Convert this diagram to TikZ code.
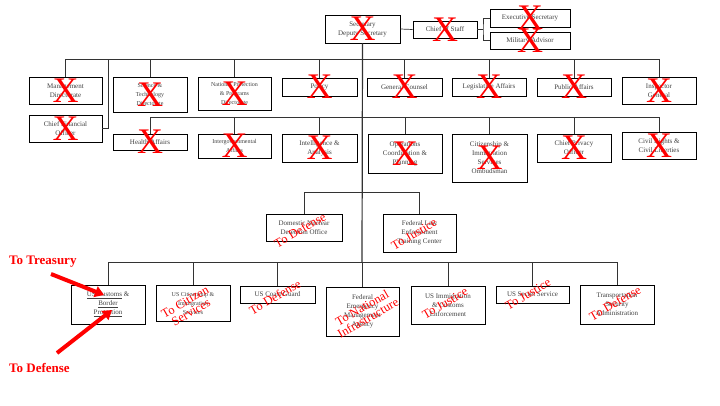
\documentclass[tikz,border=0pt]{standalone}
\usepackage{fontspec}
\setmainfont{Liberation Serif}
\usetikzlibrary{arrows.meta}
\begin{document}
\begin{tikzpicture}[x=1pt,y=-1pt,
  bx/.style={draw,line width=0.8pt,align=center,inner sep=1pt,text=black!75,font=\fontsize{7}{9}\selectfont},
  ln/.style={draw,line width=0.7pt,black!80},
  xm/.style={text=red,font=\fontsize{36}{36}\selectfont,inner sep=0pt},
  lab/.style={text=red,font=\fontsize{12.5}{12}\selectfont,align=center,rotate=30,inner sep=0pt},
  arr/.style={red,line width=4pt,-{Triangle[length=9pt,width=11pt]}}]
\useasboundingbox (0,0) rectangle (720,405);
\newcommand\B[6]{\node[bx,minimum width=#4pt,minimum height=#5pt] (#1) at (#2,#3) {#6};}
\newcommand\sm{\fontsize{6}{8}\selectfont}
\B{sec}{362.5}{29}{75}{28}{Secretary\\Deputy Secretary}
\B{cos}{445}{29.5}{64}{17}{Chief of Staff}
\B{exe}{530}{18}{80}{18}{Executive Secretary}
\B{mil}{530}{40.5}{80}{17}{Military Advisor}
\B{mgmt}{65.5}{90.5}{73}{27}{Management\\Directorate}
\B{st}{150}{94.5}{74}{35}{\sm Science \&\\\sm Technology\\\sm Directorate}
\B{nppd}{234.5}{93.5}{73}{33}{\sm National Protection\\\sm \& Programs\\\sm Directorate}
\B{pol}{319.5}{87}{75}{18}{Policy}
\B{gc}{404.5}{87}{75}{18}{General Counsel}
\B{leg}{489}{87}{74}{18}{Legislative Affairs}
\B{pub}{574}{87}{74}{18}{Public Affairs}
\B{ig}{659}{90.5}{74}{27}{Inspector\\General}
\B{cfo}{65.5}{128.5}{73}{27}{Chief Financial\\Officer}
\B{health}{150}{142}{74}{16}{Health Affairs}
\B{intergov}{234.5}{146}{73}{24}{\sm Intergovernmental\\\sm Affairs}
\B{ia}{319.5}{148}{75}{28}{Intelligence \&\\Analysis}
\B{ocp}{405}{153.5}{74}{39}{Operations\\Coordination \&\\Planning}
\B{cis}{489.5}{158}{75}{48}{Citizenship \&\\Immigration\\Services\\Ombudsman}
\B{cpo}{574}{148}{74}{28}{Chief Privacy\\Officer}
\B{crcl}{659}{145.5}{74}{27}{Civil Rights \&\\Civil Liberties}
\B{dndo}{304}{227.5}{76}{27}{Domestic Nuclear\\Detection Office}
\B{fletc}{419.5}{233}{73}{38}{Federal Law\\Enforcement\\Training Center}
\B{cbp}{108}{304.5}{74}{39}{\underline{US Customs} \&\\\underline{Border}\\\underline{Protection}}
\B{uscis}{193}{303}{74}{36}{\sm US Citizenship \&\\\sm Immigration\\\sm Services}
\B{uscg}{277.5}{294.5}{75}{17}{US Coast Guard}
\B{fema}{362.5}{311.5}{73}{49}{Federal\\Emergency\\Management\\Agency}
\B{ice}{448}{305}{74}{38}{US Immigration\\\& Customs\\Enforcement}
\B{usss}{532.5}{294.5}{73}{17}{US Secret Service}
\B{tsa}{617}{304.5}{74}{39}{Transportation\\Security\\Administration}
\coordinate (b1) at (362,59);
\coordinate (b2) at (362,117);
\coordinate (b3) at (362,192);
\coordinate (b4) at (362,262);
\coordinate (cfj) at (108,59);
\coordinate (csj) at (483,29.5);
\draw[ln,line width=1.2pt] (sec.south) -- (b4);
\draw[ln] (sec.east) -- (cos.west);
\draw[ln] (cos.east) -- (csj);
\draw[ln] (exe.west) -| (csj) |- (mil.west);
\foreach \n in {mgmt,st,nppd,pol,gc,leg,pub,ig} \draw[ln] (\n.north) |- (b1);
\draw[ln] (cfo.east) -| (cfj);
\foreach \n in {health,intergov,ia,ocp,cis,cpo,crcl} \draw[ln] (\n.north) |- (b2);
\foreach \n in {dndo,fletc} \draw[ln] (\n.north) |- (b3);
\foreach \n in {cbp,uscis,uscg,fema,ice,usss,tsa} \draw[ln] (\n.north) |- (b4);
\foreach \n in {sec,cos,exe,mil,mgmt,st,nppd,pol,gc,leg,pub,ig,cfo,health,intergov,ia,ocp,cis,cpo,crcl}
  \node[xm] at (\n) {X};
\node[lab] at (300,230) {To Defense};
\node[lab] at (414,234) {To Justice};
\node[lab] at (188,307) {To Citizen\\Services};
\node[lab] at (275,297) {To Defense};
\node[lab] at (365,313) {To National\\Infrastructure};
\node[lab] at (445,303) {To Justice};
\node[lab] at (528,294) {To Justice};
\node[lab] at (615,303) {To Defense};
\node[text=red,font=\bfseries\fontsize{13}{13}\selectfont,anchor=west,inner sep=0pt] (tt) at (9,262) {To Treasury};
\node[text=red,font=\bfseries\fontsize{13}{13}\selectfont,anchor=west,inner sep=0pt] (td) at (9,368) {To Defense};
\coordinate (a1s) at (51,274);
\coordinate (a1e) at (104,295);
\coordinate (a2s) at (57,353);
\coordinate (a2e) at (112,310);
\draw[arr] (a1s) -- (a1e);
\draw[arr] (a2s) -- (a2e);
\end{tikzpicture}
\end{document}
